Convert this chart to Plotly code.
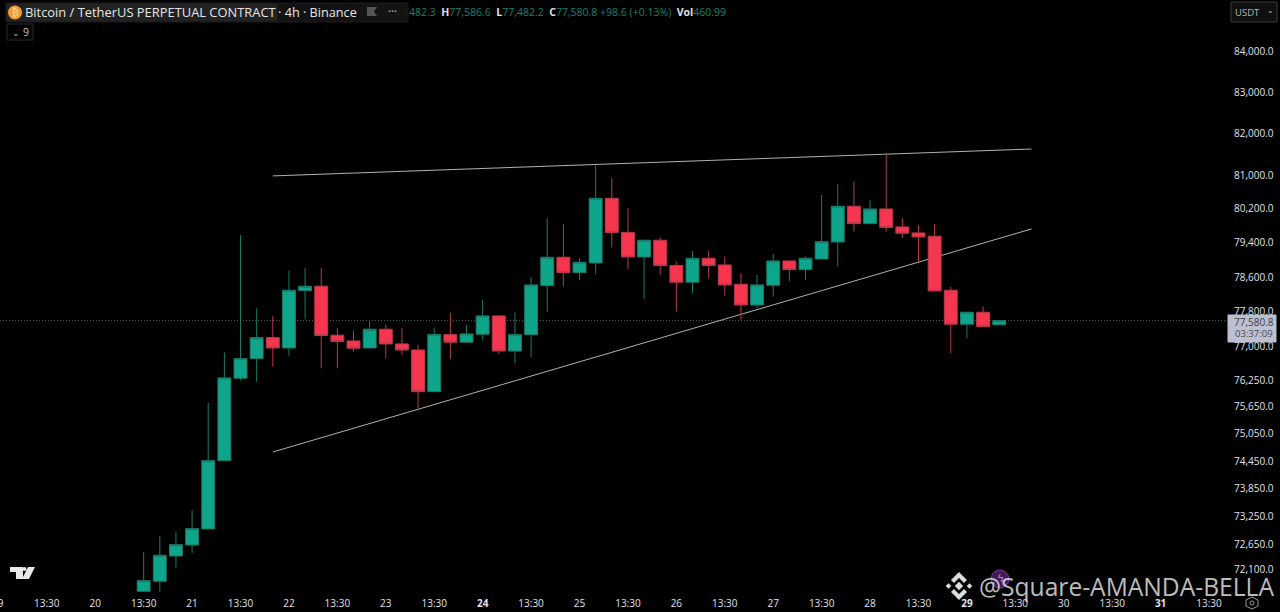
import math
import pandas as pd
import plotly.graph_objects as go

# candles, 4h bars
bar_start = "2025-03-20 13:30"
opens = [71625, 71837, 72375, 72610, 72955, 74439, 76271, 76713, 77190, 76955,
         78267, 78369, 77245, 77115, 76955, 77382, 77047, 76909, 75969, 77258,
         77085, 77268, 77686, 76886, 77258, 78383, 79042, 78684, 78909, 80429,
         79623, 79049, 79440, 78851, 78462, 79018, 78863, 78415, 77937, 78392,
         78956, 78754, 79002, 79399, 80240, 79830, 80176, 79752, 79611, 79534,
         78276, 77496, 77770, 77482.3]
highs = [72460, 72804, 72897, 73364, 75722, 76857, 79557, 77861, 77686, 78731,
         78793, 78800, 77405, 77350, 77571, 77480, 77405, 77028, 77405, 77761,
         77480, 78051, 77692, 77761, 78578, 79957, 79823, 79018, 81224, 80906,
         80193, 79446, 79510, 78940, 79188, 79188, 79056, 78670, 78631, 79118,
         78956, 79056, 80507, 80763, 80825, 80388, 81503, 79957, 79800, 79823,
         78360, 77777, 77898, 77586.6]
lows = [71625, 71616, 72126, 72432, 72955, 74439, 76217, 76194, 76533, 76781,
        77610, 76497, 76497, 76871, 76955, 76722, 76796, 75598, 75969, 76699,
        77062, 77121, 76819, 76609, 76744, 77784, 78360, 78515, 78647, 79272,
        78770, 78067, 78631, 77784, 78206, 78554, 78151, 77594, 77861, 78128,
        78492, 78515, 79002, 78824, 79642, 79830, 79642, 79486, 78940, 78260,
        76835, 77176, 77441, 77482.2]
closes = [71850, 72390, 72616, 72961, 74439, 76278, 76713, 77190, 76955, 78276,
          78369, 77237, 77099, 76949, 77382, 77047, 76909, 75969, 77263, 77085,
          77274, 77686, 76886, 77258, 78399, 79042, 78684, 78926, 80429, 79618,
          79049, 79440, 78847, 78462, 79018, 78847, 78399, 77937, 78399, 78956,
          78754, 79018, 79406, 80240, 79830, 80176, 79737, 79604, 79517, 78260,
          77496, 77770, 77441, 77580.8]

# trend lines
trend_times = ["2025-03-21 21:30", "2025-03-29 17:30"]
upper_trend = [80961, 81606]
lower_trend = [74629, 79705]

# axes
price_ticks = [84000, 83000, 82000, 81000, 80200, 79400, 78600, 77800, 77000,
               76250, 75650, 75050, 74450, 73850, 73250, 72650, 72100]
time_labels = ["13:30", "20", "13:30", "21", "13:30", "22", "13:30", "23", "13:30",
               "<b>24</b>", "13:30", "25", "13:30", "26", "13:30", "27", "13:30", "28",
               "13:30", "<b>29</b>", "13:30", "30", "13:30", "<b>31</b>", "13:30"]
view_times = ["2025-03-19 01:54", "2025-03-31 17:42"]
view_prices = [71610, 85273]
last_price = 77580.8

times = pd.date_range(bar_start, periods=len(closes), freq="4h")
tick_times = pd.date_range("2025-03-19 13:30", periods=len(time_labels), freq="12h")

W, H = 1280, 612
L_M, R_M, T_M, B_M = 0, 54, 0, 20
PW, PH = W - L_M - R_M, H - T_M - B_M

GREEN = "#0ea58a"
RED = "#f5364e"
TXT = "#e0e2e8"
FONT = "Open Sans"
LOG_RANGE = [math.log10(view_prices[0]), math.log10(view_prices[1])]


# pixel position on the page -> paper coords, only for the screen furniture
def px(x):
    return (x - L_M) / PW


def py(y):
    return 1 - (y - T_M) / PH


def box(x0, y0, x1, y1, fill, line=None, layer="above"):
    return dict(type="rect", xref="paper", yref="paper", x0=px(x0), x1=px(x1), y0=py(y0), y1=py(y1),
                fillcolor=fill, line=dict(color=line or fill, width=1), layer=layer)


def poly(points, fill, line=None, width=0):
    d = "M" + " L".join(f"{px(a):.5f},{py(b):.5f}" for a, b in points) + " Z"
    return dict(type="path", xref="paper", yref="paper", path=d, fillcolor=fill,
                line=dict(color=line or fill, width=width), layer="above")


def label(x, y, text, size=10, color=TXT, anchor="left", family=FONT):
    return dict(xref="paper", yref="paper", x=px(x), y=py(y), text=text, showarrow=False,
                xanchor=anchor, yanchor="middle", font=dict(size=size, color=color, family=family),
                borderpad=0, borderwidth=0)


fig = go.Figure()

fig.add_trace(go.Scatter(x=view_times, y=[last_price, last_price], mode="lines",
                         line=dict(color="#46605a", width=1, dash="1px,2px"), hoverinfo="skip"))
# trend lines sit under the candles, so the candles go on an overlaid axis pair
for trend in (upper_trend, lower_trend):
    fig.add_trace(go.Scatter(x=trend_times, y=trend, mode="lines",
                             line=dict(color="#c4c4c4", width=0.9), hoverinfo="skip"))
fig.add_trace(go.Candlestick(
    x=times, open=opens, high=highs, low=lows, close=closes,
    xaxis="x2", yaxis="y2",
    whiskerwidth=0,
    increasing=dict(line=dict(color="#1d7a68", width=1), fillcolor=GREEN),
    decreasing=dict(line=dict(color="#b83a4b", width=1), fillcolor=RED),
))

shapes = [
    # header strip
    box(6, 3, 408, 22, "#131313", "#1c1c1c"),
    box(7, 4, 277, 21, "#222222"),
    dict(type="circle", xref="paper", yref="paper", x0=px(8), x1=px(22), y0=py(5.5), y1=py(19.5),
         fillcolor="#f09a33", line=dict(width=0), layer="above"),
    poly([(367, 7), (377, 7), (374, 11.5), (377, 16), (367, 16)], "#555555"),
    box(7, 24, 33, 40, "#000000", "#2c2c2c"),
    # currency selector
    box(1231, 2, 1277, 22, "#101010", "#3a3a3a"),
    # last price tag
    box(1228, 315, 1276, 342, "#bcc0d0"),
    # watermark badge
    dict(type="circle", xref="paper", yref="paper", x0=px(991), x1=px(1009), y0=py(570), y1=py(588),
         fillcolor="rgba(120,50,150,0.55)", line=dict(color="#7a3a9a", width=1), layer="above"),
    # TradingView mark
    poly([(10, 567), (23, 567), (23, 579), (16, 579), (16, 572), (10, 572)], "#e8e8e8"),
    dict(type="circle", xref="paper", yref="paper", x0=px(22.5), x1=px(26.5), y0=py(567), y1=py(571),
         fillcolor="#e8e8e8", line=dict(width=0), layer="above"),
    poly([(28, 567), (35, 567), (29, 579), (22, 579)], "#e8e8e8"),
    # settings hexagon
    poly([(1252, 597), (1258, 600), (1258, 606), (1252, 609), (1246, 606), (1246, 600)],
         "rgba(0,0,0,0)", "#9a9a9a", 1),
    dict(type="circle", xref="paper", yref="paper", x0=px(1250), x1=px(1254), y0=py(601), y1=py(605),
         fillcolor="rgba(0,0,0,0)", line=dict(color="#9a9a9a", width=1), layer="above"),
]

# Binance diamond
for cx, cy, r in [(959, 586, 4.2), (948.5, 586, 2.8), (969.5, 586, 2.8)]:
    shapes.append(poly([(cx, cy - r), (cx + r, cy), (cx, cy + r), (cx - r, cy)], "#dcdcdc"))
shapes.append(poly([(959, 572), (967, 580), (964, 583), (959, 578), (954, 583), (951, 580)], "#dcdcdc"))
shapes.append(poly([(959, 600), (967, 592), (964, 589), (959, 594), (954, 589), (951, 592)], "#dcdcdc"))

OHLC = "#17806e"
ohlc_text = (f"<span style='color:{OHLC}'>482.3</span>  <b>H</b><span style='color:{OHLC}'>77,586.6</span>"
             f"  <b>L</b><span style='color:{OHLC}'>77,482.2</span>"
             f"  <b>C</b><span style='color:{OHLC}'>77,580.8 +98.6 (+0.13%)</span>"
             f"  <b>Vol</b><span style='color:{OHLC}'>460.99</span>")

annotations = [
    label(25, 12, "Bitcoin / TetherUS PERPETUAL CONTRACT", 12.9, "#e6e6e6"),
    label(278, 12, "· 4h · Binance", 12.7, "#e6e6e6"),
    label(15, 12, "₿", 10, "#fbe3c0", "center", "DejaVu Sans"),
    label(388, 11, "•••", 8, "#999999", "left"),
    label(409, 12, ohlc_text, 10.5, "#e0e0e0"),
    label(12, 32.5, "⌄", 9, "#b0b0b0", "left", "DejaVu Sans"),
    label(23, 32, "9", 10.5, "#c8c8c8"),
    label(1235, 12, "USDT", 9.5, "#b8b8b8"),
    label(1270, 11, "⌄", 8, "#b8b8b8", "center", "DejaVu Sans"),
    label(1254, 322, "77,580.8", 10, "#3a3d48", "center"),
    label(1254, 333, "03:37:09", 9.5, "#4a4d58", "center"),
    label(-2, 603, "19", 10, TXT, "center"),
    label(979, 586, "@Square-AMANDA-BELLA", 24.6, "rgba(232,232,232,0.82)", "left"),
    label(1000, 578, "ϟ", 11, "#c080e0", "center", "DejaVu Sans"),
]

fig.update_layout(
    width=W, height=H, autosize=False,
    margin=dict(l=L_M, r=R_M, t=T_M, b=B_M, pad=0),
    paper_bgcolor="#000000", plot_bgcolor="#000000",
    showlegend=False, boxgap=0.2, boxgroupgap=0,
    shapes=shapes, annotations=annotations,
    font=dict(family=FONT, color=TXT, size=10),
    hovermode=False,
    xaxis=dict(
        type="date", range=view_times, showgrid=False, zeroline=False, showline=False,
        rangeslider=dict(visible=False), tickmode="array", tickvals=tick_times, ticktext=time_labels,
        ticks="outside", ticklen=2, tickcolor="#000000", tickfont=dict(size=10, color=TXT, family=FONT),
        tickangle=0,
    ),
    yaxis=dict(
        type="log", side="right", range=LOG_RANGE,
        showgrid=False, zeroline=False, showline=False,
        tickmode="array", tickvals=price_ticks, ticktext=[f"{v:,.1f}" for v in price_ticks],
        ticks="outside", ticklen=5, tickcolor="#000000", ticklabelshift=1,
        tickfont=dict(size=10, color=TXT, family=FONT),
    ),
    xaxis2=dict(type="date", range=view_times, overlaying="x", showgrid=False, zeroline=False,
                showline=False, showticklabels=False, ticks="", rangeslider=dict(visible=False)),
    yaxis2=dict(type="log", range=LOG_RANGE, overlaying="y", side="right", showgrid=False,
                zeroline=False, showline=False, showticklabels=False, ticks=""),
)

fig.write_html("out.html", config=dict(displayModeBar=False),
               post_script="document.body.style.margin='0';document.body.style.background='#000';document.body.style.overflow='hidden';")
